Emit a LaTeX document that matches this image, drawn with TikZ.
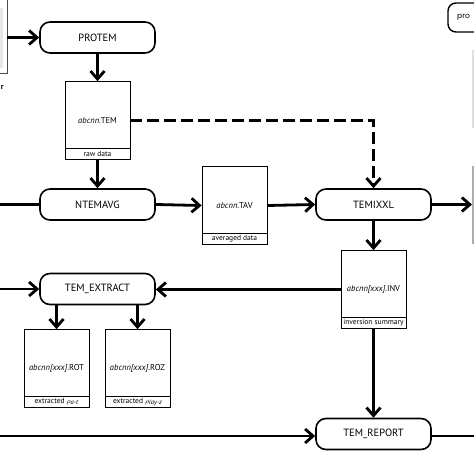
\documentclass[tikz,border=0pt]{standalone}
\usepackage{fontspec}
\usepackage{amsmath}
\setmainfont{PT Sans}
\newfontfamily\popfont{Poppins}
\usetikzlibrary{arrows.meta}
\newcommand{\subtxt}[1]{\raisebox{-1pt}{\textit{\fontsize{6.5}{7}\selectfont #1}}}
\begin{document}
\begin{tikzpicture}[x=1pt,y=-1pt,
  proc/.style={draw, line width=1.6pt, rounded corners=10pt, minimum width=115pt, minimum height=31pt, inner sep=0pt, font=\fontsize{10.5}{12}\selectfont},
  filebox/.style={draw, line width=0.7pt, minimum width=65pt, minimum height=78pt, inner sep=0pt, font=\fontsize{8.5}{10}\selectfont},
  strip/.style={draw, line width=0.7pt, minimum width=65pt, minimum height=11pt, inner sep=0pt, font=\fontsize{7.5}{8}\selectfont},
  conn/.style={line width=2.8pt, -{Straight Barb[length=8pt,width=14pt]}},
  plainline/.style={line width=2.8pt},
  dashconn/.style={line width=2.8pt, dash pattern=on 12pt off 5pt, -{Straight Barb[length=8pt,width=14pt]}}
]
\useasboundingbox (0,0) rectangle (474,474);
\clip (0,0) rectangle (474,474);

% partial items at the edges
\fill[gray!18] (0,8) rectangle (3,68);
\draw[line width=0.8pt, black!70] (-10,-2) rectangle (7,73);
\node[font=\bfseries\fontsize{8}{9}\selectfont, anchor=east, inner sep=0pt] (edgetxt) at (4,87) {r};
\draw[line width=1.4pt, rounded corners=8pt] (448,3) rectangle (510,32);
\node[font=\popfont\fontsize{7.5}{9}\selectfont, anchor=west, inner sep=0pt] (protxt) at (457,17.5) {pro};
\draw[gray!25, line width=2pt] (473,50) -- (473,128);
\draw[gray!65, line width=2pt] (473,166) -- (473,244);

% process nodes
\node[proc] (protem) at (97.5,37.5) {PROTEM};
\node[proc] (ntemavg) at (97.5,204.5) {NTEMAVG};
\node[proc] (temixxl) at (373.5,204.5) {TEMIXXL};
\node[proc] (temextract) at (97.5,289) {TEM\_EXTRACT};
\node[proc] (temreport) at (373.5,434) {TEM\_REPORT};

% file nodes
\node[filebox] (tem) at (97.5,120.5) {\textit{abcnn}.TEM};
\node[strip, anchor=south] (temlab) at (tem.south) {raw data};
\node[filebox] (tav) at (234.5,205.5) {\textit{abcnn}.TAV};
\node[strip, anchor=south] (tavlab) at (tav.south) {averaged data};
\node[filebox] (inv) at (373.5,289.5) {\textit{abcnn[xxx]}.INV};
\node[strip, anchor=south] (invlab) at (inv.south) {inversion summary};
\node[filebox] (rot) at (56.5,368.5) {\textit{abcnn[xxx]}.ROT};
\node[strip, anchor=south] (rotlab) at (rot.south) {extracted $\rho$\subtxt{a-t}};
\node[filebox] (roz) at (137.5,368.5) {\textit{abcnn[xxx]}.ROZ};
\node[strip, anchor=south] (rozlab) at (roz.south) {extracted $\rho$\subtxt{lay-z}};

% free ends
\coordinate (inprotem) at (7,37.5);
\coordinate (inntem) at (0,204.5);
\coordinate (inextract) at (0,289);
\coordinate (inreport) at (0,436);
\coordinate (outreport) at (480,436);
\coordinate (outixxl) at (472,204.5);

% connectors
\draw[conn] (inprotem) -- (protem.west);
\draw[conn] (protem.south) -- (tem.north);
\draw[conn] (temlab.south) -- (ntemavg.north);
\draw[plainline] (inntem) -- (ntemavg.west);
\draw[conn] (ntemavg.east) -- (tav.west);
\draw[conn] (tav.east) -- (temixxl.west);
\draw[dashconn] (tem.east) -| (temixxl.north);
\draw[conn] (temixxl.east) -- (outixxl);
\draw[conn] (temixxl.south) -- (inv.north);
\draw[conn] (inv.west) -- (inv.west -| temextract.east);
\draw[conn] (inextract) -- (temextract.west);
\draw[conn] (temextract.south -| rot.north) -- (rot.north);
\draw[conn] (temextract.south -| roz.north) -- (roz.north);
\draw[conn] (invlab.south) -- (temreport.north);
\draw[conn] (inreport) -- (inreport -| temreport.west);
\draw[plainline] (inreport -| temreport.east) -- (outreport);
\end{tikzpicture}
\end{document}
